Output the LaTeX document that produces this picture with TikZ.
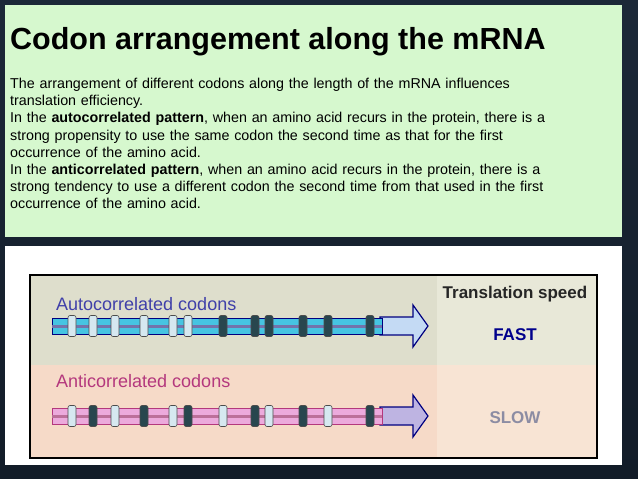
\documentclass[tikz,border=0pt]{standalone}
\usepackage{fontspec}
\setmainfont{Liberation Sans}
\definecolor{navyA}{RGB}{28,40,56}
\definecolor{navyB}{RGB}{18,28,40}
\definecolor{greenbox}{RGB}{214,248,206}
\definecolor{darkcod}{RGB}{40,70,78}
\definecolor{lightcod}{RGB}{214,232,240}
\definecolor{cyanbar}{RGB}{70,196,226}
\definecolor{pinkbar}{RGB}{236,170,220}
\definecolor{headA}{RGB}{196,218,244}
\definecolor{headB}{RGB}{190,180,226}
\definecolor{topbg}{RGB}{222,222,204}
\definecolor{botbg}{RGB}{246,218,200}
\definecolor{topbgr}{RGB}{232,232,216}
\definecolor{botbgr}{RGB}{248,228,212}
\begin{document}
\begin{tikzpicture}[x=1pt,y=-1pt,
  lc/.style={draw=black!70,fill=lightcod,rounded corners=2pt,line width=0.6pt,minimum width=8pt,minimum height=21pt,inner sep=0pt},
  dc/.style={draw=black!70,fill=darkcod,rounded corners=2pt,line width=0.6pt,minimum width=8pt,minimum height=21pt,inner sep=0pt},
  body/.style={anchor=north west,align=left,text width=610pt,font=\fontsize{14.3}{17.2}\selectfont,inner sep=0pt}]
\useasboundingbox (0,0) rectangle (638,479);
\fill[top color=navyA,bottom color=navyB] (0,0) rectangle (638,479);
\fill[greenbox] (5,5) rectangle (622,237);
\node[anchor=west,inner sep=0pt,font=\bfseries\fontsize{30.5}{34}\selectfont] (title) at (10,42) {Codon arrangement along the mRNA};
\node[body] (txt) at (10,78) {The arrangement of different codons along the length of the mRNA influences\\translation efficiency.\\In the \textbf{autocorrelated pattern}, when an amino acid recurs in the protein, there is a\\strong propensity to use the same codon the second time as that for the first\\occurrence of the amino acid.\\In the \textbf{anticorrelated pattern}, when an amino acid recurs in the protein, there is a\\strong tendency to use a different codon the second time from that used in the first\\occurrence of the amino acid.};
\fill[white] (5,246) rectangle (622,465);
\fill[topbg] (30,275) rectangle (437,365);
\fill[botbg] (30,365) rectangle (437,458);
\fill[topbgr] (437,275) rectangle (597,365);
\fill[botbgr] (437,365) rectangle (597,458);
\draw[line width=1.2pt] (30,275) rectangle (597,458);
\node[font=\bfseries\fontsize{17}{19}\selectfont,text=black!85] (ts) at (515,294) {Translation speed};
\node[font=\bfseries\fontsize{17}{19}\selectfont,text=blue!55!black] (fast) at (515,335) {FAST};
\node[font=\bfseries\fontsize{17}{19}\selectfont,text=blue!20!black!45] (slow) at (515,418) {SLOW};
\node[anchor=west,font=\fontsize{18}{20}\selectfont,text=blue!55!black!75,inner sep=0pt] (al) at (56,304) {Autocorrelated codons};
\node[anchor=west,font=\fontsize{18}{20}\selectfont,text=magenta!70!black,inner sep=0pt] (bl) at (56,381) {Anticorrelated codons};
% top arrow
\fill[headA,draw=blue!50!black,line width=1.2pt] (380,317) -- (413,317) -- (413,305) -- (428,326) -- (413,347) -- (413,335) -- (380,335) -- cycle;
\fill[cyanbar,draw=blue!50!black,line width=1pt] (52,318) rectangle (382,334);
\fill[blue!40!black!55] (52,324.5) rectangle (382,327.5);
% bottom arrow
\fill[headB,draw=blue!50!black,line width=1.2pt] (380,407) -- (413,407) -- (413,395) -- (428,416) -- (413,437) -- (413,425) -- (380,425) -- cycle;
\fill[pinkbar,draw=magenta!70!black,line width=1pt] (52,408) rectangle (382,424);
\fill[magenta!60!black!70] (52,414.5) rectangle (382,417.5);
\foreach \x [count=\i] in {72,93,115,144,173,188} \node[lc] (ta\i) at (\x,326) {};
\foreach \x [count=\i] in {223,255,269,303,328,370} \node[dc] (tb\i) at (\x,326) {};
\foreach \x [count=\i] in {72,115,173,223,269,328} \node[lc] (ba\i) at (\x,416) {};
\foreach \x [count=\i] in {93,144,188,255,303,370} \node[dc] (bb\i) at (\x,416) {};
\end{tikzpicture}
\end{document}
